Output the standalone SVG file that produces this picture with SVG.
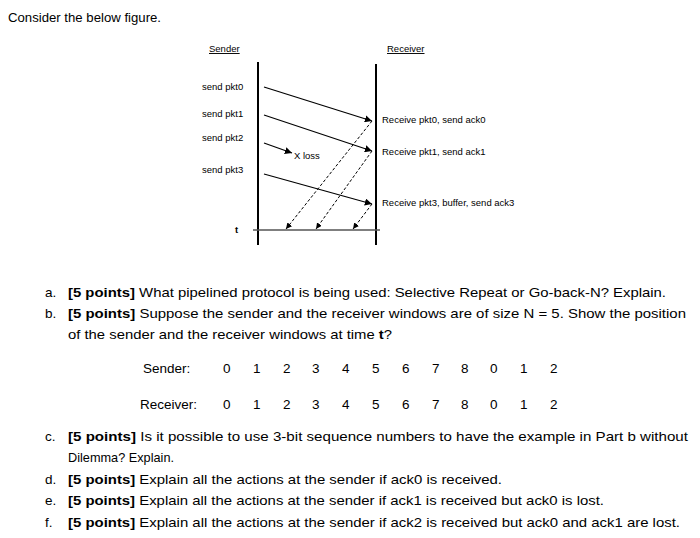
<svg xmlns="http://www.w3.org/2000/svg" width="700" height="538" viewBox="0 0 700 538">
<defs>
<marker id="ah" viewBox="0 0 10 10" refX="10" refY="5" markerWidth="6" markerHeight="6" orient="auto"><path d="M0,0 L10,5 L0,10 z" fill="#000"/></marker>
</defs>
<style>
.s{font-family:"Liberation Sans",Arial,sans-serif;font-size:9.5px;fill:#000}
.t{font-family:"Liberation Sans",Arial,sans-serif;font-size:13.5px;fill:#000}
.b{font-weight:bold}
.pl{stroke:#000;stroke-width:1.2;fill:none;marker-end:url(#ah)}
.dl{stroke:#000;stroke-width:1;stroke-dasharray:3,2;fill:none;marker-end:url(#ah)}
</style>
<rect width="700" height="538" fill="#fff"/>
<text class="t" x="8" y="22" textLength="153" lengthAdjust="spacingAndGlyphs">Consider the below figure.</text>
<g id="sender"><line x1="258" y1="62" x2="258" y2="245" stroke="#000" stroke-width="2"/>
<text class="s" x="209" y="52" text-decoration="underline">Sender</text>
<text class="s" x="202" y="90">send pkt0</text><text class="s" x="202" y="117">send pkt1</text><text class="s" x="202" y="141">send pkt2</text><text class="s" x="202" y="173">send pkt3</text>
<text class="s b" x="235" y="233">t</text></g>
<g id="receiver"><line x1="376" y1="64" x2="376" y2="245" stroke="#000" stroke-width="2"/>
<text class="s" x="387" y="52" text-decoration="underline">Receiver</text>
<text class="s" x="382" y="123">Receive pkt0, send ack0</text>
<text class="s" x="382" y="155">Receive pkt1, send ack1</text>
<text class="s" x="382" y="206">Receive pkt3, buffer, send ack3</text>
<text class="s" x="294" y="159">X loss</text></g>
<g id="connectors">
<line x1="253" y1="230" x2="380" y2="230" stroke="#555" stroke-width="1.5"/>
<line class="pl" x1="264" y1="87" x2="372" y2="121"/>
<line class="pl" x1="264" y1="115" x2="372" y2="151"/>
<line class="pl" x1="264" y1="143" x2="292" y2="153"/>
<line class="pl" x1="264" y1="174" x2="372" y2="204"/>
<line class="dl" x1="372" y1="121" x2="286" y2="229"/>
<line class="dl" x1="372" y1="151" x2="316" y2="229"/>
<line class="dl" x1="372" y1="204" x2="353" y2="229"/>
</g>
<text class="t" x="45" y="297">a.</text>
<text class="t" x="68" y="297" textLength="598" lengthAdjust="spacingAndGlyphs"><tspan class="b">[5 points]</tspan> What pipelined protocol is being used: Selective Repeat or Go-back-N? Explain.</text>
<text class="t" x="45" y="318">b.</text>
<text class="t" x="68" y="318" textLength="618" lengthAdjust="spacingAndGlyphs"><tspan class="b">[5 points]</tspan> Suppose the sender and the receiver windows are of size N = 5. Show the position</text>
<text class="t" x="68" y="339" textLength="324" lengthAdjust="spacingAndGlyphs">of the sender and the receiver windows at time <tspan class="b">t</tspan>?</text>
<text class="t" x="143" y="373">Sender:</text>
<text class="t" x="140" y="409">Receiver:</text>
<g class="t">
<text x="223" y="373">0</text><text x="253" y="373">1</text><text x="283" y="373">2</text><text x="312" y="373">3</text><text x="342" y="373">4</text><text x="372" y="373">5</text><text x="402" y="373">6</text><text x="432" y="373">7</text><text x="461" y="373">8</text><text x="490" y="373">0</text><text x="520" y="373">1</text><text x="550" y="373">2</text>
<text x="223" y="409">0</text><text x="253" y="409">1</text><text x="283" y="409">2</text><text x="312" y="409">3</text><text x="342" y="409">4</text><text x="372" y="409">5</text><text x="402" y="409">6</text><text x="432" y="409">7</text><text x="461" y="409">8</text><text x="490" y="409">0</text><text x="520" y="409">1</text><text x="550" y="409">2</text>
</g>
<text class="t" x="45" y="441">c.</text>
<text class="t" x="68" y="441" textLength="620" lengthAdjust="spacingAndGlyphs"><tspan class="b">[5 points]</tspan> Is it possible to use 3-bit sequence numbers to have the example in Part b without</text>
<text class="t" x="68" y="462" textLength="106" lengthAdjust="spacingAndGlyphs">Dilemma? Explain.</text>
<text class="t" x="45" y="484">d.</text>
<text class="t" x="68" y="484" textLength="434" lengthAdjust="spacingAndGlyphs"><tspan class="b">[5 points]</tspan> Explain all the actions at the sender if ack0 is received.</text>
<text class="t" x="45" y="505">e.</text>
<text class="t" x="68" y="505" textLength="536" lengthAdjust="spacingAndGlyphs"><tspan class="b">[5 points]</tspan> Explain all the actions at the sender if ack1 is received but ack0 is lost.</text>
<text class="t" x="45" y="527">f.</text>
<text class="t" x="68" y="527" textLength="612" lengthAdjust="spacingAndGlyphs"><tspan class="b">[5 points]</tspan> Explain all the actions at the sender if ack2 is received but ack0 and ack1 are lost.</text>
</svg>
